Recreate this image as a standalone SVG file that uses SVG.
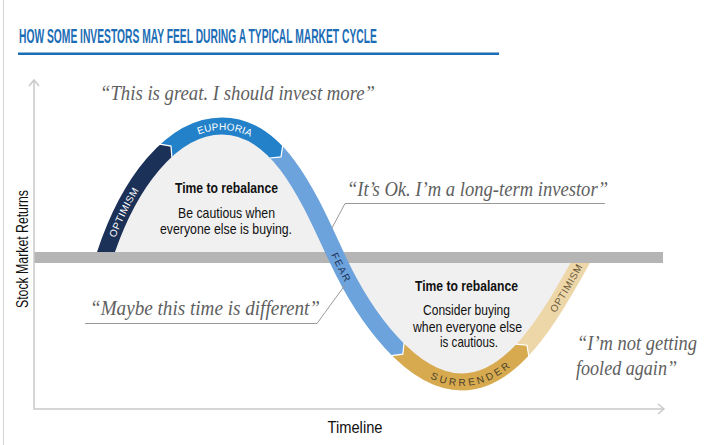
<svg xmlns="http://www.w3.org/2000/svg" width="720" height="445" viewBox="0 0 720 445">
<style>
.title{font-family:'Liberation Sans',Arial,sans-serif;font-weight:bold;font-size:21px;fill:#1b6db5}
.quote{font-family:'Liberation Serif','DejaVu Serif',serif;font-style:italic;font-size:20.5px;fill:#606060}
.hd{font-family:'Liberation Sans',Arial,sans-serif;font-weight:bold;font-size:15.5px;fill:#111;text-anchor:middle}
.bd{font-family:'Liberation Sans',Arial,sans-serif;font-size:15px;fill:#111;text-anchor:middle}
.ax{font-family:'Liberation Sans',Arial,sans-serif;font-size:16px;fill:#111;text-anchor:middle}
.lbl{font-family:'Liberation Sans',Arial,sans-serif;font-size:10px;text-anchor:middle;dominant-baseline:central}
.seg{fill:none;stroke-width:17}
.axis{fill:none;stroke:#c9c9c9;stroke-width:1.5}
.call{fill:none;stroke:#9a9a9a;stroke-width:1}
.sep{fill:none;stroke:#ffffff;stroke-width:1.2;stroke-linejoin:miter}
.area{fill:#f0f0f0}
</style>
<defs>
<path id="wave" d="M104,258 C128,183 172,126 222,126 C280,126 310,200 337,258 C365,318 412,382 462,382 C512,382 548,321 583,258"/>
<clipPath id="cNavy"><path d="M0,60 L145.6,60 L145.6,128.7 L159.7,144.2 L171,146.1 L171.9,157.4 L186.1,172.9 L186.1,252 L0,252 Z"/></clipPath>
<clipPath id="cEup"><path d="M145.6,60 L145.6,128.7 L159.7,144.2 L171,146.1 L171.9,157.4 L186.1,172.9 L254.5,172.6 L269.7,158 L281,156.9 L282.7,145.6 L297.9,131 L297.9,60 Z"/></clipPath>
<clipPath id="cFear"><path d="M297.9,131 L282.7,145.6 L281,156.9 L269.7,158 L254.5,172.6 L376.7,370.6 L391.5,355.7 L402.8,354.2 L404.1,342.9 L418.9,328 L460,200 L380,60 L297.9,60 Z"/></clipPath>
<clipPath id="cSur"><path d="M376.7,370.6 L391.5,355.7 L402.8,354.2 L404.1,342.9 L418.9,328 L500.3,329.8 L515.6,344.2 L527,345.2 L528.8,356.4 L544.1,370.8 L544.1,430 L376.7,430 Z"/></clipPath>
<clipPath id="cTan"><path d="M500.3,329.8 L515.6,344.2 L527,345.2 L528.8,356.4 L544.1,370.8 L700,370.8 L700,263 L500.3,263 Z"/></clipPath>
</defs>
<rect width="720" height="445" fill="#ffffff"/>
<line x1="3.5" y1="0" x2="3.5" y2="445" stroke="#d4d4d4" stroke-width="1"/>
<g id="title">
<text class="title" transform="translate(19,43) scale(0.49,1)">HOW SOME INVESTORS MAY FEEL DURING A TYPICAL MARKET CYCLE</text>
<rect x="18" y="52.5" width="481" height="2.5" fill="#1b6db5"/>
</g>
<g id="areas">
<path class="area" d="M104,258 C128,183 172,126 222,126 C280,126 310,200 337,258 Z"/>
<path class="area" d="M337,258 C365,318 412,382 462,382 C512,382 548,321 583,258 Z"/>
</g>
<g id="baseline-band"><rect x="34" y="252" width="629" height="11" fill="#b5b5b5"/></g>
<g id="axes">
<path class="axis" d="M34,80 L34,409 L664,409"/>
<path class="axis" d="M29,86 L34,80 L39,86"/>
<path class="axis" d="M658,404 L664,409 L658,414"/>
<text class="ax" transform="translate(27.5,249) rotate(-90)" textLength="118" lengthAdjust="spacingAndGlyphs">Stock Market Returns</text>
<text class="ax" x="355" y="433" font-size="17" textLength="55" lengthAdjust="spacingAndGlyphs">Timeline</text>
</g>
<g id="optimism-1"><use href="#wave" class="seg" stroke="#1c3158" clip-path="url(#cNavy)"/>
<text class="lbl" fill="#ffffff" letter-spacing="0.6"><textPath href="#wave" startOffset="50">OPTIMISM</textPath></text></g>
<g id="euphoria"><use href="#wave" class="seg" stroke="#2381c9" clip-path="url(#cEup)"/>
<text class="lbl" fill="#ffffff" letter-spacing="0.6"><textPath href="#wave" startOffset="191">EUPHORIA</textPath></text></g>
<g id="fear"><use href="#wave" class="seg" stroke="#6ca3dc" clip-path="url(#cFear)"/>
<text class="lbl" fill="#1c3158" letter-spacing="1.3"><textPath href="#wave" startOffset="383">FEAR</textPath></text></g>
<g id="surrender"><use href="#wave" class="seg" stroke="#d7aa4f" clip-path="url(#cSur)"/>
<text class="lbl" fill="#4a3f2a" letter-spacing="2.3"><textPath href="#wave" startOffset="567">SURRENDER</textPath></text></g>
<g id="optimism-2"><use href="#wave" class="seg" stroke="#edd7a8" clip-path="url(#cTan)"/>
<text class="lbl" fill="#6b5a3a" letter-spacing="0.6"><textPath href="#wave" startOffset="703">OPTIMISM</textPath></text></g>
<g id="separators">
<polyline class="sep" points="159.7,144.2 171,146.1 171.9,157.4"/>
<polyline class="sep" points="282.7,145.6 281,156.9 269.7,158"/>
<polyline class="sep" points="391.5,355.7 402.8,354.2 404.1,342.9"/>
<polyline class="sep" points="528.8,356.4 527,345.2 515.6,344.2"/>
</g>
<g id="rebalance-top">
<text class="hd" x="226.5" y="193" textLength="103" lengthAdjust="spacingAndGlyphs">Time to rebalance</text>
<text class="bd" x="226.5" y="217.5" textLength="97" lengthAdjust="spacingAndGlyphs">Be cautious when</text>
<text class="bd" x="226" y="234" textLength="132" lengthAdjust="spacingAndGlyphs">everyone else is buying.</text>
</g>
<g id="rebalance-bottom">
<text class="hd" x="466.5" y="291" textLength="103" lengthAdjust="spacingAndGlyphs">Time to rebalance</text>
<text class="bd" x="466.5" y="315" textLength="87" lengthAdjust="spacingAndGlyphs">Consider buying</text>
<text class="bd" x="467.5" y="331.5" textLength="109" lengthAdjust="spacingAndGlyphs">when everyone else</text>
<text class="bd" x="469" y="347" textLength="58" lengthAdjust="spacingAndGlyphs">is cautious.</text>
</g>
<g id="quote-great"><text class="quote" x="100" y="100" textLength="275" lengthAdjust="spacingAndGlyphs">“This is great. I should invest more”</text></g>
<g id="quote-ok"><text class="quote" x="347" y="196" textLength="261" lengthAdjust="spacingAndGlyphs">“It’s Ok. I’m a long-term investor”</text></g>
<g id="quote-maybe"><text class="quote" x="90" y="315" textLength="230" lengthAdjust="spacingAndGlyphs">“Maybe this time is different”</text></g>
<g id="quote-fooled">
<text class="quote" x="577" y="350" textLength="120" lengthAdjust="spacingAndGlyphs">“I’m not getting</text>
<text class="quote" x="576" y="375" textLength="101" lengthAdjust="spacingAndGlyphs">fooled again”</text>
</g>
<g id="connectors">
<path class="call" d="M605,203.5 L345,203.5 L332,228"/>
<path class="call" d="M85,323.5 L317,323.5 L345,285"/>
</g>
</svg>
